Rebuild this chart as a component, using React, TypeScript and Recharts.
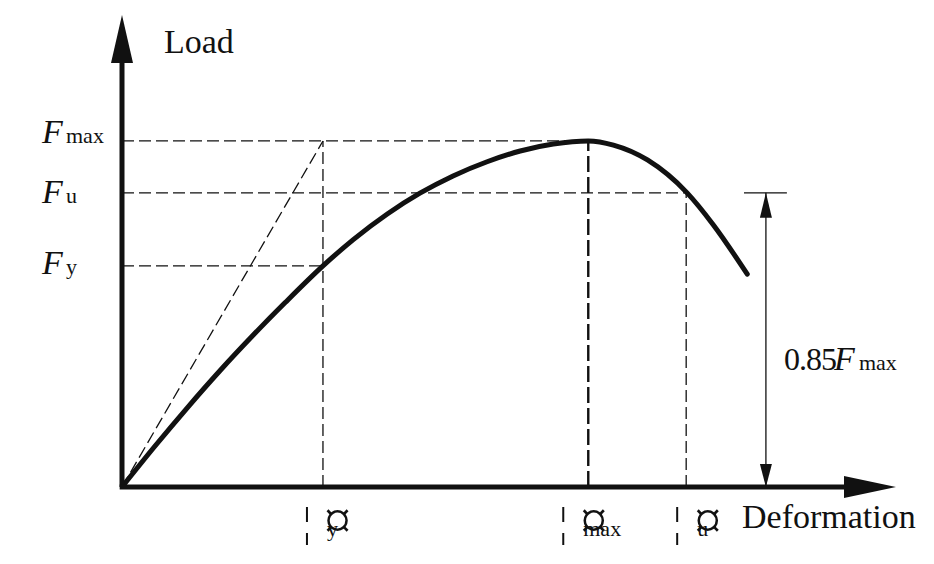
import React from 'react';
import { ComposedChart, Line, XAxis, YAxis, ReferenceLine, ReferenceDot } from 'recharts';

// ---- data (deformation in mm, load in kN) ----
const deformation = [0, 0.7, 1.4, 2.1, 2.8, 3.5, 4.31, 4.96, 5.69, 6.39, 7.1, 7.83, 8.54, 9.25, 10.0, 10.54, 11.27, 12.12, 12.68, 13.41];
const load = [0, 11.7, 22.9, 33.6, 43.7, 53.3, 63.9, 71.5, 78.9, 84.9, 89.9, 94.0, 97.1, 99.1, 100, 98.8, 94.5, 85.0, 75.8, 61.5];

const F_MAX = 100;
const F_U = 85;
const F_Y = 63.9;
const D_Y = 4.31;
const D_MAX = 10;
const D_U = 12.1;
const DIM_X = 13.81;
const TICK_FROM = 13.34;
const TICK_TO = 14.26;

const X_MAX = 16.6;
const Y_MAX = 136.4;

const yTickValues = [F_Y, F_U, F_MAX];
const yTickSubs = ['y', 'u', 'max'];
const xTickValues = [D_Y, D_MAX, D_U];
const xTickSubs = ['y', 'max', 'u'];

const curveData = deformation.map((x, i) => ({ x, load: load[i] }));

// ---- styles ----
const FONT = '"Liberation Serif", "Times New Roman", serif';
const INK = '#111';
const yLabelDy = [8, 10, 2];
const xLabelDx = [4, -5, 11];

function YTick(props: any) {
  const { y, payload } = props;
  const i = yTickValues.indexOf(payload.value);
  const base = y + yLabelDy[i];
  return (
    <g>
      <text x={42} y={base} fontFamily={FONT} fontStyle="italic" fontSize={34} fill={INK}>F</text>
      <text x={66} y={base} fontFamily={FONT} fontSize={22} fill={INK}>{yTickSubs[i]}</text>
    </g>
  );
}

function XTick(props: any) {
  const { x, y, payload } = props;
  const i = xTickValues.indexOf(payload.value);
  const lx = x + xLabelDx[i];
  return (
    <g>
      <line x1={lx - 20} x2={lx - 20} y1={y + 20} y2={y + 58} stroke={INK} strokeWidth={2} strokeDasharray="15 11" />
      <text x={lx - 3} y={y + 52} fontFamily={FONT} fontSize={54} fill={INK}>¤</text>
      <text x={lx} y={y + 49} fontFamily={FONT} fontSize={22} fill={INK}>{xTickSubs[i]}</text>
    </g>
  );
}

const UpArrow = (p: any) => (
  <g>
    <polygon points={`${p.cx},${p.cy} ${p.cx - 11},${p.cy + 48} ${p.cx + 11},${p.cy + 48}`} fill={INK} />
    <text x={p.cx + 42} y={p.cy + 38} fontFamily={FONT} fontSize={34} fill={INK}>Load</text>
  </g>
);

const RightArrow = (p: any) => (
  <g>
    <polygon points={`${p.cx},${p.cy} ${p.cx - 52},${p.cy - 11} ${p.cx - 52},${p.cy + 11}`} fill={INK} />
    <text x={p.cx - 154} y={p.cy + 41} fontFamily={FONT} fontSize={34} fill={INK}>Deformation</text>
  </g>
);

const DimTop = (p: any) => (
  <polygon points={`${p.cx},${p.cy} ${p.cx - 6},${p.cy + 25} ${p.cx + 6},${p.cy + 25}`} fill={INK} />
);

const DimBottom = (p: any) => (
  <g>
    <polygon points={`${p.cx},${p.cy} ${p.cx - 6},${p.cy - 23} ${p.cx + 6},${p.cy - 23}`} fill={INK} />
    <text x={p.cx + 18} y={p.cy - 117} fontFamily={FONT} fontSize={32} letterSpacing={-1} fill={INK}>0.85</text>
    <text x={p.cx + 68} y={p.cy - 117} fontFamily={FONT} fontStyle="italic" fontSize={34} fill={INK}>F</text>
    <text x={p.cx + 93} y={p.cy - 117} fontFamily={FONT} fontSize={22} fill={INK}>max</text>
  </g>
);

const dash = { stroke: INK, strokeWidth: 1.3, strokeDasharray: '12 5' };

export default function App() {
  return (
    <div style={{ position: 'absolute', left: 0, top: 0, width: 934, height: 564, background: '#fff' }}>
      <ComposedChart width={934} height={564} data={curveData} margin={{ top: 15, right: 38, bottom: 0, left: 0 }}>
        <XAxis
          dataKey="x"
          type="number"
          domain={[0, X_MAX]}
          allowDataOverflow
          ticks={xTickValues}
          interval={0}
          height={77}
          axisLine={false}
          tickLine={false}
          tickSize={0}
          tickMargin={0}
          tick={<XTick />}
        />
        <YAxis
          type="number"
          domain={[0, Y_MAX]}
          allowDataOverflow
          ticks={yTickValues}
          interval={0}
          width={122}
          axisLine={false}
          tickLine={false}
          tickSize={0}
          tickMargin={0}
          tick={<YTick />}
        />

        {/* construction lines */}
        <ReferenceLine segment={[{ x: 0, y: F_MAX }, { x: D_MAX, y: F_MAX }]} {...dash} />
        <ReferenceLine segment={[{ x: 0, y: F_U }, { x: D_U, y: F_U }]} {...dash} />
        <ReferenceLine segment={[{ x: 0, y: F_Y }, { x: D_Y, y: F_Y }]} {...dash} />
        <ReferenceLine segment={[{ x: D_Y, y: 0 }, { x: D_Y, y: F_MAX }]} {...dash} />
        <ReferenceLine segment={[{ x: D_U, y: 0 }, { x: D_U, y: F_U }]} {...dash} />
        <ReferenceLine segment={[{ x: 0, y: 0 }, { x: D_Y, y: F_MAX }]} {...dash} />
        <ReferenceLine segment={[{ x: D_MAX, y: 0 }, { x: D_MAX, y: F_MAX }]} stroke={INK} strokeWidth={2.4} strokeDasharray="16 5" />

        {/* dimension 0.85Fmax */}
        <ReferenceLine segment={[{ x: TICK_FROM, y: F_U }, { x: TICK_TO, y: F_U }]} stroke={INK} strokeWidth={1.3} />
        <ReferenceLine segment={[{ x: DIM_X, y: 0 }, { x: DIM_X, y: F_U }]} stroke={INK} strokeWidth={1.3} />
        <ReferenceDot x={DIM_X} y={F_U} ifOverflow="visible" shape={DimTop} />
        <ReferenceDot x={DIM_X} y={0} ifOverflow="visible" shape={DimBottom} />

        <Line
          dataKey="load"
          type="monotone"
          stroke={INK}
          strokeWidth={5}
          strokeLinecap="round"
          strokeLinejoin="round"
          dot={false}
          activeDot={false}
          isAnimationActive={false}
        />

        {/* axes with arrows */}
        <ReferenceLine segment={[{ x: 0, y: 0 }, { x: 0, y: 130 }]} stroke={INK} strokeWidth={5} ifOverflow="visible" />
        <ReferenceLine segment={[{ x: -0.05, y: 0 }, { x: 16.1, y: 0 }]} stroke={INK} strokeWidth={5} ifOverflow="visible" />
        <ReferenceDot x={0} y={Y_MAX} ifOverflow="visible" shape={UpArrow} />
        <ReferenceDot x={X_MAX} y={0} ifOverflow="visible" shape={RightArrow} />
      </ComposedChart>
    </div>
  );
}
